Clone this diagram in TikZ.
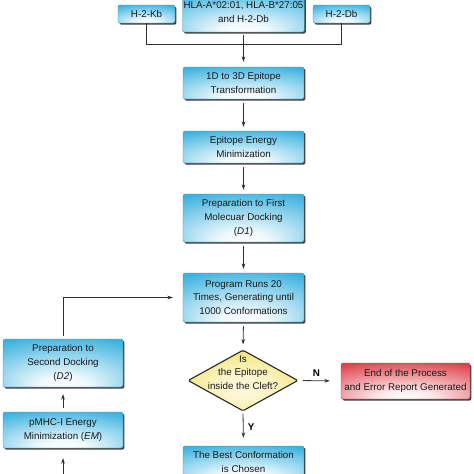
\documentclass[tikz,border=0pt]{standalone}
\usepackage{fontspec}
\setmainfont{Liberation Sans}
\usetikzlibrary{shapes.geometric,arrows.meta,shadows}
\definecolor{boxcyan}{HTML}{3CB2DF}
\definecolor{boxred}{HTML}{E0414C}
\definecolor{boxyel}{HTML}{EFD834}
\definecolor{linecol}{HTML}{303030}
\pgfdeclareradialshading{blueshade}{\pgfpoint{0bp}{-26bp}}{color(0bp)=(white); color(10bp)=(white!92!boxcyan); color(44bp)=(boxcyan); color(100bp)=(boxcyan)}
\pgfdeclareradialshading{redshade}{\pgfpoint{0bp}{-26bp}}{color(0bp)=(white); color(10bp)=(white!90!boxred); color(44bp)=(boxred); color(100bp)=(boxred)}
\pgfdeclareradialshading{yelshade}{\pgfpoint{0bp}{-6bp}}{color(0bp)=(white!85!boxyel); color(14bp)=(white!70!boxyel); color(42bp)=(boxyel); color(100bp)=(boxyel)}
\begin{document}
\begin{tikzpicture}[x=1pt,y=-1pt,
  txt/.style={font=\fontsize{9.8}{13.8}\selectfont, align=center, text=black!90},
  boxbase/.style={txt, rounded corners=2pt, inner xsep=1pt, inner ysep=0pt,
    draw=boxcyan!80!black, line width=0.3pt,
    drop shadow={shadow xshift=1.4pt, shadow yshift=-1.6pt, fill=black!75, opacity=1}},
  bluebox/.style={boxbase, shading=blueshade},
  redbox/.style={boxbase, shading=redshade, draw=boxred!80!black},
  decision/.style={diamond, draw=black!85, line width=1.1pt, shading=yelshade,
    minimum width=110pt, minimum height=61pt, inner sep=0pt, aspect=1.8, rounded corners=1.5pt},
  conn/.style={draw=linecol, line width=0.8pt},
  arr/.style={conn, -{Stealth[length=5.5pt,width=3.6pt]}},
  lab/.style={font=\fontsize{9.8}{12}\selectfont\bfseries, text=black}
]
\useasboundingbox (0,0) rectangle (474,474);
\clip (0,0) rectangle (474,474);

% top row
\node[bluebox, minimum width=57pt, minimum height=18pt] (kb) at (146.5,14) {H-2-Kb};
\node[bluebox, minimum width=121pt, minimum height=40pt] (hla) at (243.5,12) {HLA-A*02:01, HLA-B*27:05\\and H-2-Db};
\node[bluebox, minimum width=57pt, minimum height=18pt] (db) at (341.5,14) {H-2-Db};

% main column
\node[bluebox, minimum width=121pt, minimum height=32pt] (t1) at (243.5,83) {1D to 3D Epitope\\Transformation};
\node[bluebox, minimum width=121pt, minimum height=32pt] (t2) at (243.5,147) {Epitope Energy\\Minimization};
\node[bluebox, minimum width=121pt, minimum height=48pt] (t3) at (243.5,218) {Preparation to First\\Molecuar Docking\\(\textit{D1})};
\node[bluebox, minimum width=121pt, minimum height=49pt] (t4) at (243.5,297.5) {Program Runs 20\\Times, Generating until\\1000 Conformations};
\node[decision] (dia) at (243,380.5) {};
\node[txt] (diat) at (243,372.5) {Is\\the Epitope\\inside the Cleft?};
\node[redbox, minimum width=129pt, minimum height=36pt] (red) at (405.5,381) {End of the Process\\and Error Report Generated};
\node[bluebox, minimum width=121pt, minimum height=32pt] (best) at (243.5,462) {The Best Conformation\\is Chosen};

% left column
\node[bluebox, minimum width=120pt, minimum height=48pt] (d2) at (63,363) {Preparation to\\Second Docking\\(\textit{D2})};
\node[bluebox, minimum width=120pt, minimum height=36pt] (em) at (63,430) {pMHC-I Energy\\Minimization (\textit{EM})};
\coordinate (bottomin) at (63,480);

% connectors
\draw[conn] (kb.south) -- ++(0,21) -| (db.south);
\draw[arr, shorten <=3pt, shorten >=5pt] (hla.south) -- (t1.north);
\draw[arr, shorten <=4pt, shorten >=4pt] (t1.south) -- (t2.north);
\draw[arr, shorten <=4pt, shorten >=4pt] (t2.south) -- (t3.north);
\draw[arr, shorten <=4pt, shorten >=4pt] (t3.south) -- (t4.north);
\draw[arr, shorten <=4pt, shorten >=5pt] (t4.south) -- (dia.north);
\draw[arr, shorten <=4pt, shorten >=11pt] (dia.east) -- node[lab, above=0pt, pos=0.42] {N} (red.west);
\draw[arr, shorten <=2pt, shorten >=8pt] (dia.south) -- node[lab, right=1pt, pos=0.45] {Y} (best.north);
\draw[arr, shorten <=3pt, shorten >=10pt] (d2.north) |- (t4.west);
\draw[arr, shorten <=4pt, shorten >=7pt] (em.north) -- (d2.south);
\draw[arr, shorten >=10pt] (bottomin) -- (em.south);
\end{tikzpicture}
\end{document}
